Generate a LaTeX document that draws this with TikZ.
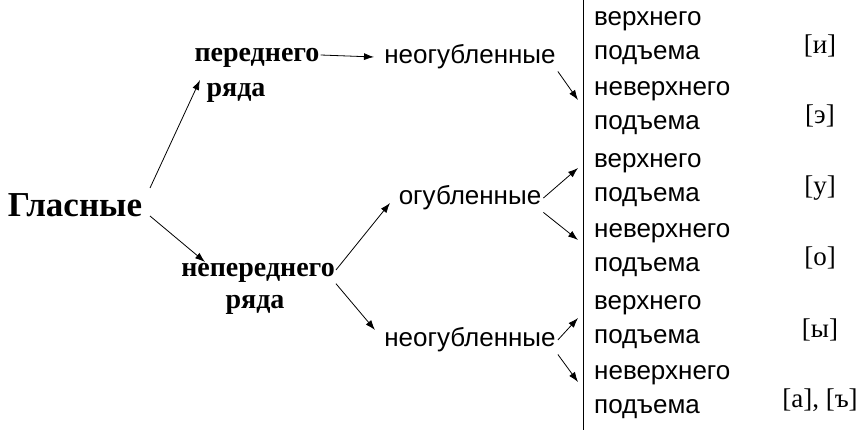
\documentclass[tikz,border=0pt]{standalone}
\usepackage{fontspec}
\setmainfont{Liberation Serif}
\setsansfont{Liberation Sans}
\usetikzlibrary{arrows.meta}
\begin{document}
\begin{tikzpicture}[x=1pt,y=-1pt,
  bold/.style={font=\bfseries\fontsize{28}{30}\selectfont,align=center,inner sep=1pt},
  kind/.style={font=\sffamily\fontsize{26}{30}\selectfont,inner sep=2pt},
  sound/.style={font=\sffamily\fontsize{26}{34}\selectfont,align=left,anchor=west,inner sep=0pt},
  sym/.style={font=\fontsize{27}{30}\selectfont},
  arr/.style={-{Latex[length=10pt,width=7pt]},thick}]
\useasboundingbox (0,0) rectangle (858,430);

\node[font=\bfseries\fontsize{35}{38}\selectfont,inner sep=1pt] (vowels) at (75,205) {Гласные};
\node[bold,text height=19pt] (front) at (257,55) {переднего};
\node[bold] at (236,93) {ряда};
\node[bold,text height=19pt] (back) at (258,270) {непереднего};
\node[bold] at (255,305) {ряда};

\node[kind] (unr1) at (470,57) {неогубленные};
\node[kind] (rnd) at (470,198) {огубленные};
\node[kind] (unr2) at (470,340) {неогубленные};

\draw (583,0) -- (583,430);

\foreach \y/\txt/\snd [count=\i] in {38/верхнего/[и],108/неверхнего/[э],180/верхнего/[у],250/неверхнего/[о],322/верхнего/[ы],392/неверхнего/{[а], [ъ]}}{
  \node[sound] (h\i) at (594,\y) {\txt\\подъема};
  \node[sym] (s\i) at (820,\y+8) {\snd};
}
\coordinate (p1) at (578,100);
\coordinate (p2) at (578,168);
\coordinate (p3) at (578,240);
\coordinate (p4) at (578,318);
\coordinate (p5) at (578,382);

\draw[arr] (150,188) -- (200,80);
\draw[arr] (150,216) -- (205,262);
\draw[arr] (front.east) -- (374,57);
\draw[arr] (unr1.south east) -- (p1);
\draw[arr] (back.east) -- (390,203);
\draw[arr] (back.south east) -- (375,330);
\draw[arr] (rnd.east) -- (p2);
\draw[arr] (rnd.south east) -- (p3);
\draw[arr] (unr2.east) -- (p4);
\draw[arr] (unr2.south east) -- (p5);
\end{tikzpicture}
\end{document}
